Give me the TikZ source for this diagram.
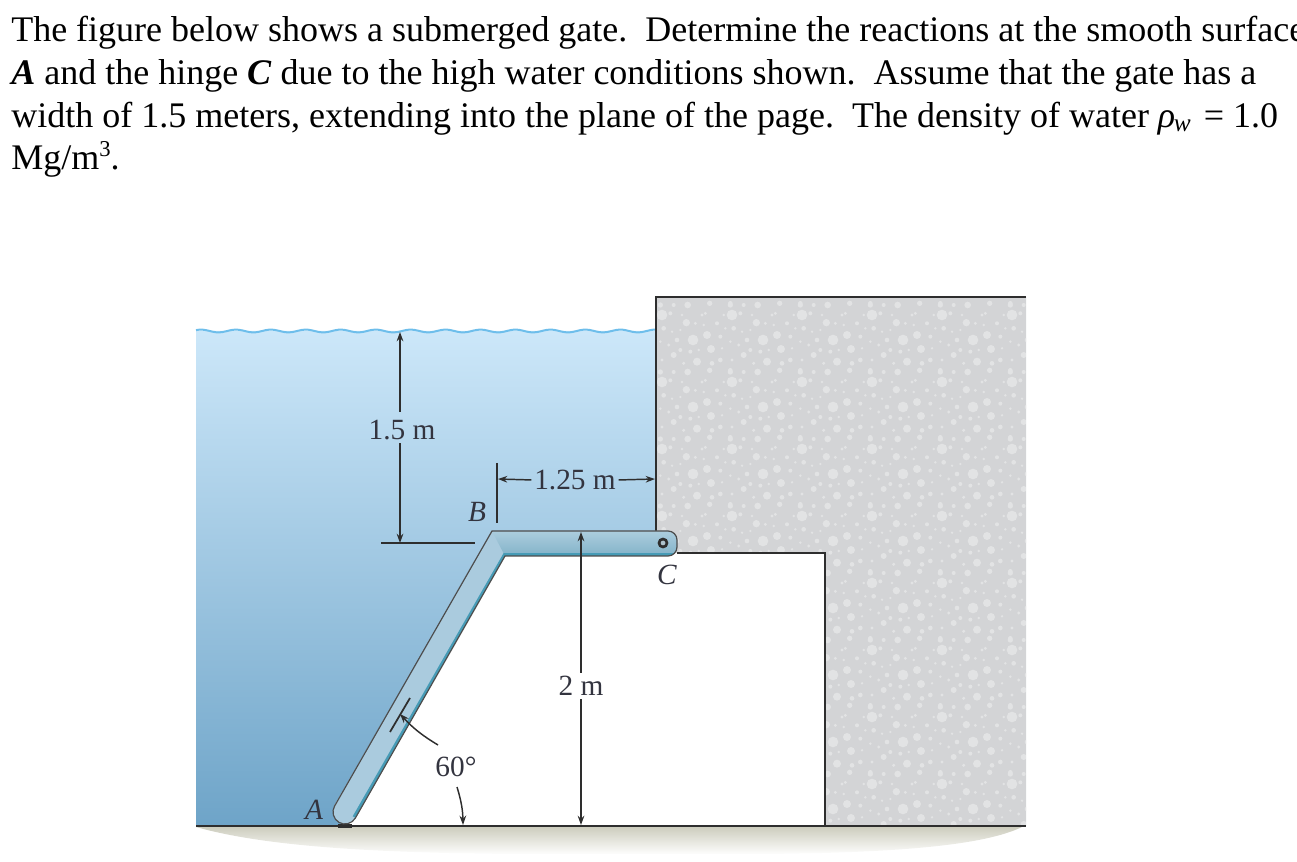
\documentclass[tikz,border=0pt]{standalone}
\usepackage{fontspec}
\setmainfont{Liberation Serif}
\usetikzlibrary{arrows.meta}
\definecolor{dotc}{HTML}{E2E3E4}
\definecolor{concrete}{HTML}{D3D4D6}
\definecolor{labc}{HTML}{33343F}
\definecolor{linec}{HTML}{2E2E2E}
\tikzset{
  body/.style={anchor=base west,inner sep=0pt,font=\fontsize{27pt}{27pt}\selectfont,text=black},
  lab/.style={inner sep=1pt,font=\fontsize{22pt}{22pt}\selectfont,text=labc},
  letter/.style={inner sep=0pt,font=\fontsize{22pt}{22pt}\selectfont\itshape,text=labc},
  wall/.style={draw=linec,line width=1.7pt},
  dim/.style={draw=linec,line width=1.1pt},
  dimarrow/.style={dim,-{Stealth[length=7pt,width=5pt]}},
  gap/.style={shorten <=#1}
}
\newcommand{\gatepath}{(492,531) -- (668,531) arc (-90:0:9) -- (677,547) arc (0:90:9) -- (505,556) -- (355.4,818) arc (30:210:12) -- cycle}
\begin{document}
\begin{tikzpicture}[x=.75pt,y=-.75pt]
\useasboundingbox (0,0) rectangle (1297,862);
\clip (0,0) rectangle (1297,862);
% ground shadow
\begin{scope}
  \clip (196,827) .. controls (260,845) and (360,853) .. (520,854) -- (760,854) .. controls (900,853) and (985,845) .. (1022,827) -- cycle;
  \shade[top color={rgb,255:red,205;green,205;blue,190},bottom color=white] (196,827) rectangle (1030,855);
\end{scope}
% concrete
\fill[concrete] (656,297) -- (1026,297) -- (1026,826) -- (825,826) -- (825,553) -- (656,553) -- cycle;
\begin{scope}
  \clip (656,297) -- (1026,297) -- (1026,826) -- (825,826) -- (825,553) -- (656,553) -- cycle;
  \foreach \i in {0,...,5}{
    \foreach \j in {0,...,7}{
      \begin{scope}[shift={(657+70*\i,300+67*\j)},x=.25pt,y=-.25pt]
        \foreach \a/\b/\r in {15/45/16,92/15/10,158/10/8,220/10/7,88/68/11,108/120/16,150/105/12,162/147/12,120/185/12,50/165/9,60/120/7,20/85/7,180/70/6,40/40/6,135/45/5,115/70/5,70/150/6,190/180/7,165/190/7,100/155/6,10/15/8,50/15/6,190/110/6,35/135/5,145/40/5,75/45/4,200/45/4,15/180/5,80/190/5,140/75/4,70/90/4,45/95/4,10/125/4,125/150/4,195/145/4,205/85/4}
          \fill[dotc] (\a,\b) circle ({\r*.25pt});
      \end{scope}
    }
  }
\end{scope}
% water
\shade[top color={rgb,255:red,204;green,231;blue,249},bottom color={rgb,255:red,110;green,164;blue,200}]
  (196,331) -- (656,331) -- (656,532) -- (492,532) -- (334,806) -- (345,826) -- (196,826) -- cycle;
\draw[line width=1.5pt,draw={rgb,255:red,110;green,190;blue,235}]
  plot[domain=196:656,samples=140,smooth] (\x,{331+1.4*sin(\x*10.3)});
% walls
\draw[wall] (656,532) -- (656,297) -- (1026,297);
\draw[wall] (677,553) -- (825,553) -- (825,826);
\draw[wall] (196,826) -- (1026,826);
\draw[line width=2.5pt,draw=linec] (338,826) -- (352,826);
% gate
\fill[fill={rgb,255:red,170;green,203;blue,222}] \gatepath;
\begin{scope}
  \clip \gatepath;
  \shade[top color={rgb,255:red,172;green,205;blue,222},bottom color={rgb,255:red,130;green,178;blue,200}] (492,531) -- (680,531) -- (680,556) -- (505,556) -- cycle;
  \draw[line width=2.2pt,draw={rgb,255:red,70;green,155;blue,182}] (680,554.5) -- (504.5,554.5) -- (354,817);
\end{scope}
\draw[draw=linec!85!white,line width=.9pt] \gatepath;
% hinge
\node[circle,draw=linec,fill={rgb,255:red,175;green,195;blue,205},line width=2pt,inner sep=0pt,minimum size=6pt] (hinge) at (663,543) {};
% labels
\node[letter] (ptA) at (314,810) {A};
\node[letter] (ptB) at (477,512) {B};
\node[letter] (ptC) at (667,575) {C};
\node[lab] (d15) at (402,430) {1.5 m};
\node[lab] (d125) at (575,480) {1.25 m};
\node[lab] (d2) at (581,686) {2 m};
\node[lab] (a60) at (456,767) {60°};
% named ends
\coordinate (surf) at (400,332);
\coordinate (up15) at (400,430);
\coordinate (tick15) at (400,543);
\coordinate (t15a) at (381,543);
\coordinate (t15b) at (475,543);
\coordinate (t125a) at (497,463);
\coordinate (t125b) at (497,523);
\coordinate (left125) at (498,479);
\coordinate (wall125) at (655,479);
\coordinate (up2) at (581,686);
\coordinate (top2) at (581,532);
\coordinate (bot2) at (581,825);
\coordinate (tka) at (390,732);
\coordinate (tkb) at (410,698);
\coordinate (tkm) at (400,714);
\coordinate (gnd) at (463,825);
\coordinate (arcs) at (438,745);
\coordinate (arct) at (457,787);
% dimensions
\draw[dimarrow,gap=13.5pt] (up15) -- (surf);
\draw[dimarrow,gap=10pt] (up15) -- (tick15);
\draw[dim] (t15a) -- (t15b);
\draw[dim,line width=1.3pt] (t125a) -- (t125b);
\draw[dimarrow,gap=1pt] (d125.west) -- (left125);
\draw[dimarrow,gap=1pt] (d125.east) -- (wall125);
\draw[dimarrow,gap=10pt] (up2) -- (top2);
\draw[dimarrow,gap=10pt] (up2) -- (bot2);
\draw[dim,line width=1.3pt] (tka) -- (tkb);
\draw[dimarrow] (arcs) to[bend left=8] (tkm);
\draw[dimarrow] (arct) to[bend left=8] (gnd);
% statement
\node[body] (l1) at (11,42) {The figure below shows a submerged gate.\ \ Determine the reactions at the smooth surface};
\node[body] (l2) at (11,85) {\textbf{\textit{A}} and the hinge \textbf{\textit{C}} due to the high water conditions shown.\ \ Assume that the gate has a};
\node[body] (l3) at (11,128) {width of 1.5 meters, extending into the plane of the page.\ \ The density of water \textit{ρ}\kern-1pt\raisebox{-3pt}{\fontsize{19pt}{19pt}\selectfont\textit{w}}\kern3pt{} = 1.0};
\node[body] (l4) at (11,170) {Mg/m\raisebox{10pt}{\fontsize{17pt}{17pt}\selectfont 3}.};
\end{tikzpicture}
\end{document}
